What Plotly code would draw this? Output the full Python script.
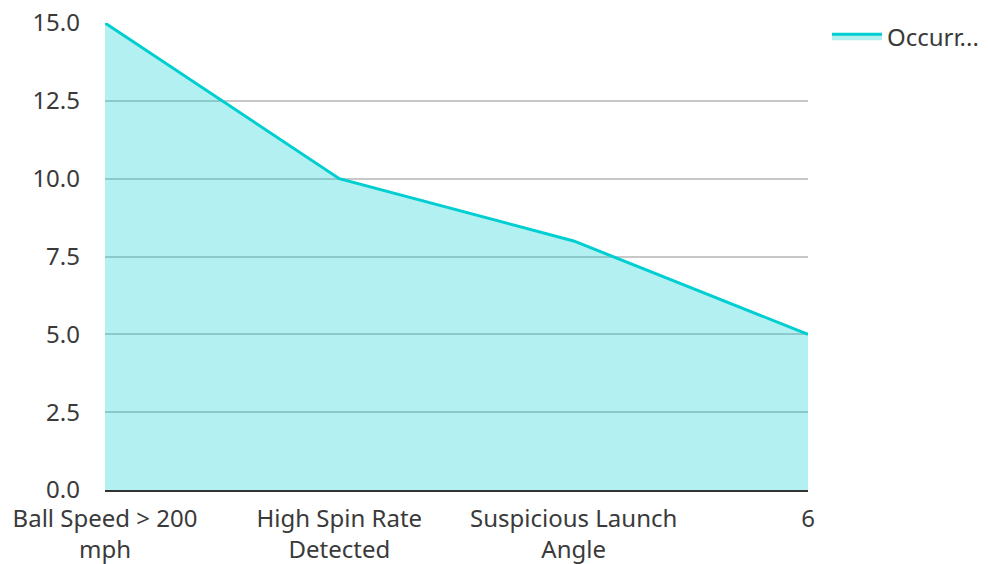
import plotly.graph_objects as go

categories = ["Ball Speed > 200 mph", "High Spin Rate Detected", "Suspicious Launch Angle", "6"]
tick_labels = ["Ball Speed > 200<br>mph", "High Spin Rate<br>Detected", "Suspicious Launch<br>Angle", "6"]
values = [15, 10, 8, 5]
series_name = "Occurr..."
y_ticks = [0, 2.5, 5, 7.5, 10, 12.5, 15]

fig = go.Figure()
fig.add_trace(go.Scatter(
    x=categories, y=values, name=series_name, mode="lines",
    line=dict(color="#00CED1", width=3),
    fill="tozeroy", fillcolor="rgba(0,206,209,0.3)",
    showlegend=True,
))

fig.update_layout(
    width=988, height=564,
    margin=dict(l=97, r=188, t=15, b=82, autoexpand=False),
    paper_bgcolor="white", plot_bgcolor="white",
    font=dict(family="Noto Sans", size=24, color="#3a3a3a"),
    legend=dict(x=1.027, y=1.019, xanchor="left", yanchor="top", itemwidth=50,
                entrywidth=100, entrywidthmode="pixels",
                font=dict(size=24, color="#3a3a3a"), bgcolor="rgba(0,0,0,0)"),
    xaxis=dict(
        tickmode="array", tickvals=categories, ticktext=tick_labels,
        range=[0, 3], showgrid=False, showline=True, linecolor="#333333", linewidth=2,
        ticks="", zeroline=False, tickfont=dict(size=24), automargin=False,
        ticklabelstandoff=6, ticklabeloverflow="allow",
    ),
    yaxis=dict(
        range=[0, 15], tickvals=y_ticks, tickformat=".1f",
        showgrid=True, gridcolor="#C8C8C8", gridwidth=1.5,
        zeroline=False, showline=False, ticks="", tickfont=dict(size=24),
        ticklabelstandoff=24, automargin=False, ticklabeloverflow="allow",
    ),
)

fig.write_html("out.html")
